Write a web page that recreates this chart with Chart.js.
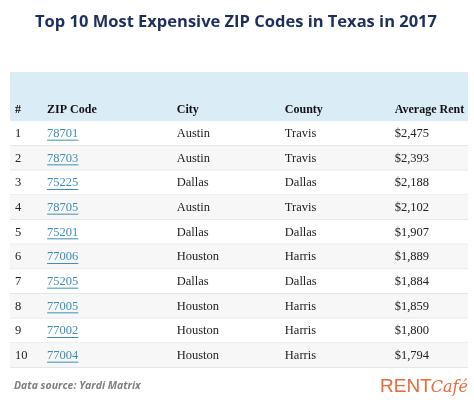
<!DOCTYPE html>
<html><head><meta charset="utf-8">
<script src="https://cdn.jsdelivr.net/npm/chart.js@4"></script>
<style>html,body{margin:0;padding:0;background:#fff}#w{width:474px;height:403px}</style>
</head><body><div id="w"><canvas id="c"></canvas></div>
<script>
const title = 'Top 10 Most Expensive ZIP Codes in Texas in 2017';
const headers = ['#', 'ZIP Code', 'City', 'County', 'Average Rent'];
const ranks = [1,2,3,4,5,6,7,8,9,10];
const zips = ['78701','78703','75225','78705','75201','77006','75205','77005','77002','77004'];
const cities = ['Austin','Austin','Dallas','Austin','Dallas','Houston','Dallas','Houston','Houston','Houston'];
const counties = ['Travis','Travis','Dallas','Travis','Dallas','Harris','Dallas','Harris','Harris','Harris'];
const rents = [2475,2393,2188,2102,1907,1889,1884,1859,1800,1794];
const colX = [0.011, 0.081, 0.364, 0.6, 0.84];
const fmt = v => '$' + v.toLocaleString('en-US');

const tablePlugin = {
  id: 'table',
  beforeDatasetsDraw(chart) {
    const {ctx, scales:{x, y}} = chart;
    const L = x.getPixelForValue(0), R = x.getPixelForValue(1);
    ctx.save();
    ctx.fillStyle = '#daecf6';
    ctx.fillRect(L, y.getPixelForValue(-2), R-L, y.getPixelForValue(0)-y.getPixelForValue(-2));
    ranks.forEach((r,i) => {
      const t = y.getPixelForValue(i), b = y.getPixelForValue(i+1);
      ctx.fillStyle = i%2 ? '#f7f7f7' : '#ffffff';
      ctx.fillRect(L, t, R-L, b-t);
      ctx.fillStyle = '#e6e6e6';
      ctx.fillRect(L, b-1, R-L, 1);
    });
    ctx.textBaseline = 'middle';
    ctx.font = 'bold 12px "Liberation Serif"';
    ctx.fillStyle = '#111';
    const hy = y.getPixelForValue(-0.45);
    headers.forEach((h,j) => ctx.fillText(h, x.getPixelForValue(colX[j]), hy));
    ctx.font = '12.5px "Liberation Serif"';
    ranks.forEach((r,i) => {
      const cy = y.getPixelForValue(i+0.5);
      ctx.fillStyle = '#222';
      ctx.fillText(String(r), x.getPixelForValue(colX[0]), cy);
      ctx.fillText(cities[i], x.getPixelForValue(colX[2]), cy);
      ctx.fillText(counties[i], x.getPixelForValue(colX[3]), cy);
      ctx.fillText(fmt(rents[i]), x.getPixelForValue(colX[4]), cy);
      ctx.fillStyle = '#3a8fb7';
      const zx = x.getPixelForValue(colX[1]);
      ctx.fillText(zips[i], zx, cy);
      const w = ctx.measureText(zips[i]).width;
      ctx.fillRect(zx, cy+6, w, 1);
    });
    // title
    ctx.textAlign = 'center';
    ctx.fillStyle = '#1c2f5e';
    ctx.font = 'bold 16.5px "Open Sans"';
    ctx.fillText(title, 236, 22);
    // footer
    ctx.textAlign = 'left';
    ctx.fillStyle = '#7f7f7f';
    ctx.font = 'italic bold 10.5px "Open Sans"';
    ctx.fillText('Data source: Yardi Matrix', 14, 386);
    ctx.fillStyle = '#e8693a';
    ctx.font = '19px "Liberation Sans"';
    ctx.fillText('RENT', 380, 387);
    const rw = ctx.measureText('RENT').width;
    ctx.font = 'italic 16px "DejaVu Serif"';
    ctx.fillText('Café', 379+rw, 388);
    ctx.restore();
  }
};

new Chart(document.getElementById('c'), {
  type: 'scatter',
  data: { datasets: [{ data: [], pointRadius: 0 }] },
  plugins: [tablePlugin],
  options: {
    responsive: true, maintainAspectRatio: false, animation: false,
    layout: { padding: { left: 10, right: 6, top: 72, bottom: 35 } },
    plugins: { legend: { display: false }, tooltip: { enabled: false } },
    scales: {
      x: { type: 'linear', min: 0, max: 1, display: false },
      y: { type: 'linear', min: -2, max: 10, reverse: true, display: false }
    }
  }
});
</script></body></html>
